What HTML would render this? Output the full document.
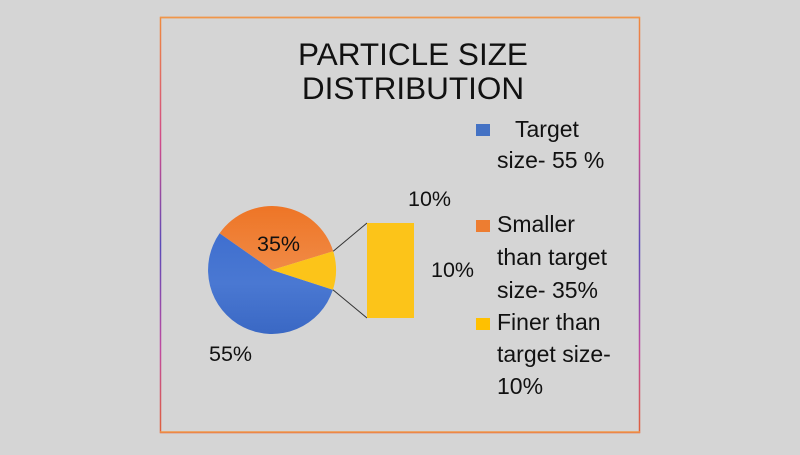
<!DOCTYPE html>
<html><head><meta charset="utf-8"><style>
html,body{margin:0;padding:0;background:#d5d5d5;}
body{width:800px;height:450px;overflow:hidden;font-family:"Liberation Sans",sans-serif;}
</style></head><body>
<svg width="800" height="450" xmlns="http://www.w3.org/2000/svg">
<defs>
<linearGradient id="bl" x1="0" y1="0" x2="0" y2="1">
<stop offset="0" stop-color="#f08a3c"/><stop offset="0.3" stop-color="#d04a8a"/><stop offset="0.55" stop-color="#5a4ab8"/><stop offset="0.8" stop-color="#c04aa0"/><stop offset="1" stop-color="#e0603a"/></linearGradient>
<linearGradient id="gb" x1="0" y1="0" x2="0" y2="1"><stop offset="0" stop-color="#3f6fcf"/><stop offset="0.5" stop-color="#4a78d2"/><stop offset="1" stop-color="#3a68c4"/></linearGradient>
<linearGradient id="go" x1="0" y1="0" x2="0" y2="1"><stop offset="0" stop-color="#ee7526"/><stop offset="1" stop-color="#f08a45"/></linearGradient>
</defs>
<rect x="0" y="0" width="800" height="450" fill="#d5d5d5"/>
<rect x="160.5" y="17.5" width="479" height="415" fill="none" stroke="url(#bl)" stroke-width="1.5"/>
<line x1="160" y1="17.5" x2="640" y2="17.5" stroke="#f0964a" stroke-width="1.5"/>
<line x1="160" y1="432" x2="640" y2="432" stroke="#f0964a" stroke-width="1.5"/>
<text x="413" y="65" font-size="31.5" text-anchor="middle" fill="#111">PARTICLE SIZE</text>
<text x="413" y="99" font-size="31.5" text-anchor="middle" fill="#111">DISTRIBUTION</text>
<path d="M272,270 L332.9,289.8 A64,64 0 1 1 219.6,233.3 Z" fill="url(#gb)"/>
<path d="M272,270 L219.6,233.3 A64,64 0 0 1 333.2,251.3 Z" fill="url(#go)"/>
<path d="M272,270 L333.2,251.3 A64,64 0 0 1 332.9,289.8 Z" fill="#fcc419"/>
<line x1="333.2" y1="251.3" x2="367" y2="223" stroke="#333" stroke-width="1"/>
<line x1="332.9" y1="289.8" x2="367" y2="318" stroke="#333" stroke-width="1"/>
<rect x="367" y="223" width="47" height="95" fill="#fcc419"/>
<g font-size="21.5" fill="#111">
<text x="257" y="251">35%</text>
<text x="209" y="361">55%</text>
<text x="408" y="206">10%</text>
<text x="431" y="277">10%</text>
</g>
<g font-size="23" fill="#111">
<rect x="476" y="124" width="14" height="12" fill="#4472c4"/>
<rect x="476" y="220" width="14" height="12" fill="#ed7d31"/>
<rect x="476" y="318" width="14" height="12" fill="#ffc000"/>
<text x="515" y="137">Target</text>
<text x="497" y="168">size- 55 %</text>
<text x="497" y="232">Smaller</text>
<text x="497" y="265">than target</text>
<text x="497" y="298">size- 35%</text>
<text x="497" y="330">Finer than</text>
<text x="497" y="362">target size-</text>
<text x="497" y="394">10%</text>
</g>
</svg>
</body></html>
